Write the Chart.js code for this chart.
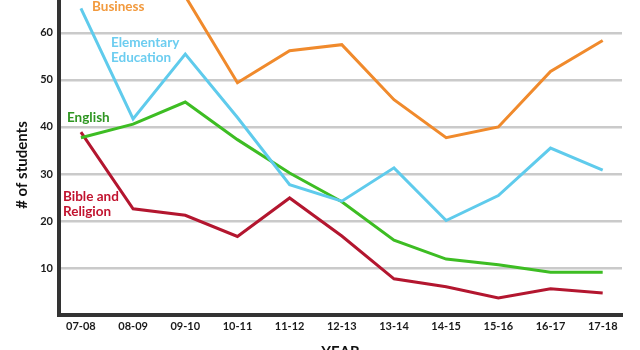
<!DOCTYPE html>
<html>
<head>
<meta charset="utf-8">
<title>Students by major</title>
<script src="https://cdn.jsdelivr.net/npm/chart.js@4.4.1/dist/chart.umd.min.js"></script>
<style>
    html, body { margin: 0; padding: 0; background: #fff; }
    #wrap { width: 640px; height: 350px; }
</style>
</head>
<body>
<div id="wrap"><canvas id="majorsChart" width="640" height="350"></canvas></div>
<script>
// School years on the x axis
const years = ['07-08', '08-09', '09-10', '10-11', '11-12', '12-13', '13-14', '14-15', '15-16', '16-17', '17-18'];

// Students per year for each major
const business   = [67.6, 68.5, 67.8, 49.4, 56.2, 57.5, 45.8, 37.7, 40.0, 51.8, 58.4];
const elementary = [65.2, 41.7, 55.5, 42.0, 27.7, 24.2, 31.3, 20.1, 25.4, 35.5, 30.8];
const english    = [37.7, 40.6, 45.3, 37.3, 30.2, 24.1, 15.9, 11.9, 10.7,  9.1,  9.1];
const bible      = [38.9, 22.6, 21.2, 16.7, 24.9, 16.8,  7.7,  6.0,  3.6,  5.6,  4.7];

const yTicks = [10, 20, 30, 40, 50, 60];

const FONT = 'Lato, "Open Sans", sans-serif';

function points(values) {
    return values.map((v, i) => ({ x: i, y: v }));
}

function series(name, values, color) {
    return {
        label: name,
        data: points(values),
        borderColor: color,
        backgroundColor: color,
        borderWidth: 3,
        pointRadius: 0,
        tension: 0,
        borderJoinStyle: 'miter'
    };
}

// Inline series names, placed next to their lines
const seriesLabels = [
    { lines: ['Business'], x: 92, y: 7, color: '#f29a3e' },
    { lines: ['Elementary', 'Education'], x: 111, y: 43, color: '#6ccdf0' },
    { lines: ['English'], x: 67, y: 118, color: '#2f9622' },
    { lines: ['Bible and', 'Religion'], x: 63, y: 197, color: '#c1132f' }
];

const textPlugin = {
    id: 'textPlugin',
    afterDraw(chart) {
        const ctx = chart.ctx;
        const area = chart.chartArea;
        ctx.save();
        ctx.textBaseline = 'middle';

        // series names
        ctx.font = 'bold 13.5px ' + FONT;
        ctx.textAlign = 'left';
        seriesLabels.forEach(lbl => {
            ctx.fillStyle = lbl.color;
            lbl.lines.forEach((t, i) => ctx.fillText(t, lbl.x, lbl.y + i * 15));
        });

        // axis titles
        ctx.fillStyle = '#111';
        ctx.font = 'bold 15px ' + FONT;
        ctx.textAlign = 'center';
        ctx.fillText('YEAR', (area.left + area.right) / 2, 352);

        ctx.translate(22, 165);
        ctx.rotate(-Math.PI / 2);
        ctx.fillText('# of students', 0, 0);
        ctx.restore();
    }
};

const ctx = document.getElementById('majorsChart').getContext('2d');
new Chart(ctx, {
    type: 'line',
    data: {
        datasets: [
            series('Business', business, '#f08a2c'),
            series('Elementary Education', elementary, '#5fcbec'),
            series('English', english, '#3dbd23'),
            series('Bible and Religion', bible, '#b3162f')
        ]
    },
    options: {
        responsive: false,
        animation: false,
        layout: { padding: { top: 0, right: 18, left: 0, bottom: 0 } },
        plugins: {
            legend: { display: false },
            tooltip: { enabled: false }
        },
        scales: {
            x: {
                type: 'linear',
                min: -0.42,
                max: 10.37,
                afterBuildTicks: axis => { axis.ticks = years.map((_, i) => ({ value: i })); },
                afterFit: scale => {
                    scale.height = 35;
                    scale.paddingLeft = 0;
                    scale.paddingRight = 0;
                },
                grid: { display: false, drawTicks: false },
                border: { display: true, color: '#333', width: 4 },
                ticks: {
                    padding: 5,
                    color: '#1a1a1a',
                    font: { family: FONT, size: 11, weight: 'bold' },
                    maxRotation: 0,
                    callback: v => years[v]
                }
            },
            y: {
                min: 0,
                max: 67,
                afterBuildTicks: axis => { axis.ticks = yTicks.map(v => ({ value: v })); },
                afterFit: scale => {
                    scale.width = 59;
                    scale.paddingTop = 0;
                    scale.paddingBottom = 0;
                },
                grid: { color: '#cacaca', lineWidth: 2.5, drawTicks: false },
                border: { display: true, color: '#333', width: 4 },
                ticks: {
                    padding: 6,
                    color: '#1a1a1a',
                    font: { family: FONT, size: 11, weight: 'bold' }
                }
            }
        }
    },
    plugins: [textPlugin]
});
</script>
</body>
</html>
